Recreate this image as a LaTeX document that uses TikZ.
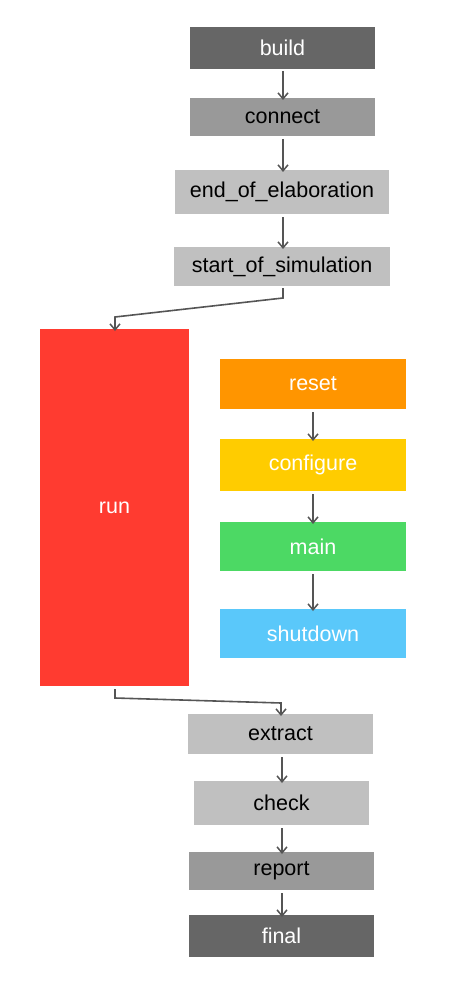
\documentclass[tikz,border=0pt]{standalone}
\usepackage{fontspec}
\setmainfont{Liberation Sans}
\usetikzlibrary{arrows.meta}
\definecolor{gdark}{HTML}{666666}
\definecolor{gmid}{HTML}{999999}
\definecolor{glight}{HTML}{C0C0C0}
\definecolor{cred}{HTML}{FF3B30}
\definecolor{corange}{HTML}{FF9500}
\definecolor{cyellow}{HTML}{FFCC00}
\definecolor{cgreen}{HTML}{4CD964}
\definecolor{cblue}{HTML}{5AC8FA}
\definecolor{arr}{HTML}{555555}
\tikzset{
  box/.style={inner sep=0pt, outer sep=0pt, font=\fontsize{21.5}{25}\selectfont},
  conn/.style={draw=arr, line width=1.6pt, -{Straight Barb[length=6pt,width=10pt,line width=1.5pt]}},
}
\newcommand{\bx}[7]{% name, x1,y1,x2,y2, fill, textcolor+text
  \fill[#6] (#2,#3) rectangle (#4,#5);
  \node[box] (#1) at ({(#2+#4)/2},{(#3+#5)/2}) [minimum width={#4-#2}, minimum height={#5-#3}] {#7};
}
\begin{document}
\begin{tikzpicture}[x=1pt,y=-1pt]
\useasboundingbox (0,0) rectangle (474,995);
\bx{build}{190}{27}{375}{69}{gdark}{\color{white}build}
\bx{connect}{190}{98}{375}{136}{gmid}{connect}
\bx{eoe}{175}{170}{389}{214}{glight}{end\_of\_elaboration}
\bx{sos}{174}{247}{390}{286}{glight}{start\_of\_simulation}
\bx{run}{40}{329}{189}{686}{cred}{\color{white}run}
\bx{reset}{220}{359}{406}{409}{corange}{\color{white}reset}
\bx{configure}{220}{439}{406}{491}{cyellow}{\color{white}configure}
\bx{main}{220}{522}{406}{571}{cgreen}{\color{white}main}
\bx{shutdown}{220}{609}{406}{658}{cblue}{\color{white}shutdown}
\bx{extract}{188}{714}{373}{754}{glight}{extract}
\bx{check}{194}{781}{369}{825}{glight}{check}
\bx{report}{189}{852}{374}{890}{gmid}{report}
\bx{final}{189}{915}{374}{957}{gdark}{\color{white}final}

\draw[conn] (build.south -| 283,0) ++(0,2) -- ([yshift=-2pt]connect.north -| 283,0);
\draw[conn] (connect.south -| 283,0) ++(0,3) -- ([yshift=-2pt]eoe.north -| 283,0);
\draw[conn] (eoe.south -| 283,0) ++(0,3) -- ([yshift=-2pt]sos.north -| 283,0);
\draw[conn] (sos.south -| 283,0) ++(0,2) -- ++(0,10) -- (115,317) -- ([yshift=-2pt]run.north -| 115,0);
\draw[conn] (run.south -| 115,0) ++(0,3) -- ++(0,9) -- (281,703) -- ([yshift=-2pt]extract.north -| 281,0);
\draw[conn] (reset.south -| 313,0) ++(0,3) -- ([yshift=-2pt]configure.north -| 313,0);
\draw[conn] (configure.south -| 313,0) ++(0,3) -- ([yshift=-2pt]main.north -| 313,0);
\draw[conn] (main.south -| 313,0) ++(0,3) -- ([yshift=-2pt]shutdown.north -| 313,0);
\draw[conn] (extract.south -| 282,0) ++(0,3) -- ([yshift=-2pt]check.north -| 282,0);
\draw[conn] (check.south -| 282,0) ++(0,3) -- ([yshift=-2pt]report.north -| 282,0);
\draw[conn] (report.south -| 282,0) ++(0,3) -- ([yshift=-2pt]final.north -| 282,0);
\end{tikzpicture}
\end{document}
